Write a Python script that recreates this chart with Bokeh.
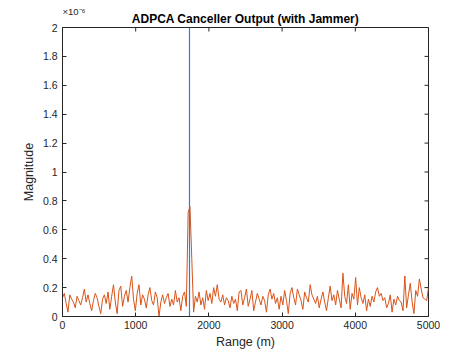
import numpy as np
from bokeh.plotting import figure
from bokeh.models import Title, FixedTicker
from bokeh.embed import file_html
from bokeh.resources import INLINE

# Magnitude in units of 1e-6
mag_e6 = [
    0.13,0.16,0.09,0.03,0.15,0.12,0.10,0.06,0.14,0.11,0.08,0.13,0.19,0.10,0.15,0.09,0.04,0.11,0.16,0.13,
    0.07,0.02,0.12,0.15,0.09,0.17,0.05,0.14,0.22,0.10,0.02,0.18,0.21,0.07,0.14,
    0.18,0.10,0.20,0.28,0.12,0.04,0.16,0.22,0.08,0.15,0.12,0.06,0.15,0.20,0.11,0.08,0.17,0.13,0.00,0.10,
    0.15,0.09,0.13,0.16,0.07,0.12,0.08,0.18,0.10,0.13,0.04,0.14,0.17,0.07,
    0.72,0.76,0.40,0.03,
    0.14,0.10,0.17,0.08,0.13,0.05,0.18,0.11,0.16,0.09,0.20,0.14,0.22,0.12,0.10,0.15,0.08,0.13,0.11,0.06,
    0.14,0.09,0.12,0.04,0.17,0.18,0.08,0.13,0.19,0.07,0.12,0.18,0.04,0.10,0.16,0.12,0.08,0.14,0.11,0.03,
    0.15,0.19,0.12,0.16,0.09,0.13,0.05,0.14,
    0.08,0.18,0.11,0.02,0.16,0.20,0.13,0.08,0.19,0.15,0.11,0.05,0.17,0.13,0.10,0.22,0.15,0.12,0.09,0.14,
    0.06,0.12,0.17,0.10,0.04,0.13,0.21,0.11,0.15,0.08,0.18,0.12,0.06,0.30,0.14,0.09,0.22,0.05,0.16,0.12,
    0.27,0.08,0.20,0.13,0.09,0.15,0.04,0.12,0.07,0.14,0.10,0.17,0.20,0.14,0.16,0.11,0.13,0.06,0.09,0.15,
    0.03,0.12,0.08,0.14,0.11,0.10,0.04,0.28,0.06,0.15,0.23,0.10,0.02,0.18,0.14,0.26,0.19,0.13,0.12,0.11,0.20,
]
range_max = 5000
rng = np.linspace(0, range_max, len(mag_e6))
target_range = 1735
target_line_y = [0, 2]

x_ticks = [0, 1000, 2000, 3000, 4000, 5000]
y_ticks = [0, 0.2, 0.4, 0.6, 0.8, 1, 1.2, 1.4, 1.6, 1.8, 2]
y_labels = {0: "0", 0.2: "0.2", 0.4: "0.4", 0.6: "0.6", 0.8: "0.8", 1: "1",
            1.2: "1.2", 1.4: "1.4", 1.6: "1.6", 1.8: "1.8", 2: "2"}

FONT = "Liberation Sans"
TXT = "#262626"

p = figure(frame_width=366, frame_height=289, x_range=(0, 5000), y_range=(0, 2),
           output_backend="svg", toolbar_location=None,
           min_border_left=62, min_border_top=27, min_border_right=38, min_border_bottom=39)
p.grid.visible = False
p.outline_line_color = TXT
p.outline_line_width = 1
p.background_fill_color = "white"
p.border_fill_color = "white"

# exponent text (outer title row, pulled down to share the line with the main title)
p.title.text = "×10⁻⁶"
p.title.align = "left"
p.title.text_font = FONT
p.title.text_font_size = "9.5px"
p.title.text_font_style = "normal"
p.title.text_color = TXT
p.title.standoff = -19

# main title (closest to the frame)
p.add_layout(Title(text="ADPCA Canceller Output (with Jammer)", align="center", text_font=FONT,
                   text_font_size="12px", text_font_style="bold", text_color="black",
                   standoff=4), "above")

p.line(rng, mag_e6, line_color="#D95319", line_width=1)
p.line([target_range, target_range], target_line_y, line_color="#2A84CF", line_width=1.2)

# inward ticks on top and right edges (box style)
p.scatter(x_ticks, [y_ticks[-1]] * len(x_ticks), marker="dash", angle=np.pi / 2, size=8,
          line_color=TXT, line_width=1)
p.scatter([x_ticks[-1]] * len(y_ticks), y_ticks, marker="dash", size=8,
          line_color=TXT, line_width=1)

for ax in (p.xaxis[0], p.yaxis[0]):
    ax.major_tick_in = 4
    ax.major_tick_out = 0
    ax.minor_tick_line_color = None
    ax.axis_line_color = TXT
    ax.major_tick_line_color = TXT
    ax.major_label_text_font = FONT
    ax.major_label_text_font_size = "10.5px"
    ax.major_label_text_color = TXT
    ax.axis_label_text_font = FONT
    ax.axis_label_text_font_size = "12.5px"
    ax.axis_label_text_font_style = "normal"
    ax.axis_label_text_color = TXT

p.xaxis[0].ticker = FixedTicker(ticks=x_ticks)
p.yaxis[0].ticker = FixedTicker(ticks=y_ticks)
p.yaxis[0].major_label_overrides = y_labels
p.xaxis[0].axis_label = "Range (m)"
p.yaxis[0].axis_label = "Magnitude"
p.xaxis[0].major_label_standoff = 4
p.xaxis[0].axis_label_standoff = 3
p.yaxis[0].major_label_standoff = 5
p.yaxis[0].axis_label_standoff = 4

open("out.html", "w").write(file_html(p, INLINE))
